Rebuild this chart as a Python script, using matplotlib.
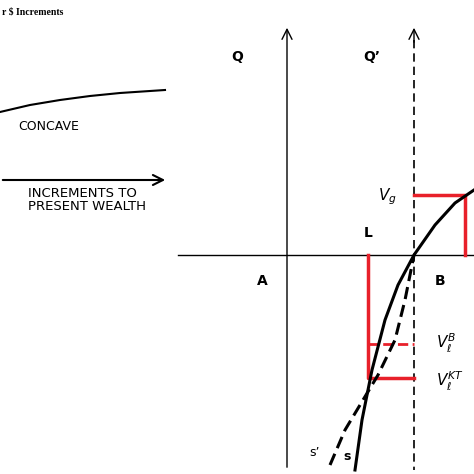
import matplotlib
matplotlib.use("Agg")
import matplotlib.pyplot as plt

# curve points (diagram coordinates)
concave_x = [0, 30, 60, 90, 120, 165]
concave_y = [112, 105, 100, 96, 93, 90]
solid_x = [355, 362, 372, 385, 398, 414, 435, 455, 474]
solid_y = [470, 420, 370, 320, 285, 255, 225, 203, 190]
dash_x = [330, 345, 360, 378, 395, 405, 414]
dash_y = [465, 430, 405, 375, 340, 300, 255]

fig = plt.figure(figsize=(4.74, 4.74), dpi=100)
ax = fig.add_axes([0, 0, 1, 1])
ax.set_xlim(0, 474); ax.set_ylim(474, 0); ax.axis('off')

ax.text(2, 12, "r $ Increments", fontsize=7, fontweight='bold', family='Liberation Serif', va='center')
ax.plot(concave_x, concave_y, color='black', lw=1.5)
ax.text(18, 126, "CONCAVE", fontsize=9, va='center')
ax.annotate("", xy=(168, 180), xytext=(0, 180), arrowprops=dict(arrowstyle='->', lw=1.5, color='black', mutation_scale=18))
ax.text(28, 200, "INCREMENTS TO\nPRESENT WEALTH", fontsize=9.5, va='center', linespacing=1.0)

ax.annotate("", xy=(287, 25), xytext=(287, 470), arrowprops=dict(arrowstyle='->', lw=1.0, color='black', mutation_scale=18))
ax.plot([178, 474], [255, 255], color='black', lw=1.0)
ax.annotate("", xy=(414, 25), xytext=(414, 45), arrowprops=dict(arrowstyle='->', lw=1.0, color='black', mutation_scale=18))
ax.plot([414, 414], [40, 470], color='black', lw=1.2, ls=(0, (5, 3)))

red = '#e8202a'
ax.plot([368, 368, 414], [255, 378, 378], color=red, lw=2.5)
ax.plot([368, 414], [344, 344], color=red, lw=2.0, ls='--')
ax.plot([414, 465, 465], [195, 195, 255], color=red, lw=2.5)

ax.plot(solid_x, solid_y, color='black', lw=2.2)
ax.plot(dash_x, dash_y, color='black', lw=2.2, ls=(0, (4, 2)))

for t, x, y in [("Q", 237, 57), ("Q\u2019", 372, 57), ("A", 262, 281), ("B", 440, 281), ("L", 368, 233)]:
    ax.text(x, y, t, fontsize=10, fontweight='bold', ha='center', va='center')
ax.text(315, 452, "s\u2019", fontsize=9, ha='center', va='center')
ax.text(347, 456, "s", fontsize=9, fontweight='bold', ha='center', va='center')
ax.text(378, 197, "$V_g$", fontsize=11, va='center')
ax.text(436, 343, "$V_\\ell^B$", fontsize=11, va='center')
ax.text(436, 381, "$V_\\ell^{KT}$", fontsize=11, va='center')

fig.savefig("out.png", dpi=100)
